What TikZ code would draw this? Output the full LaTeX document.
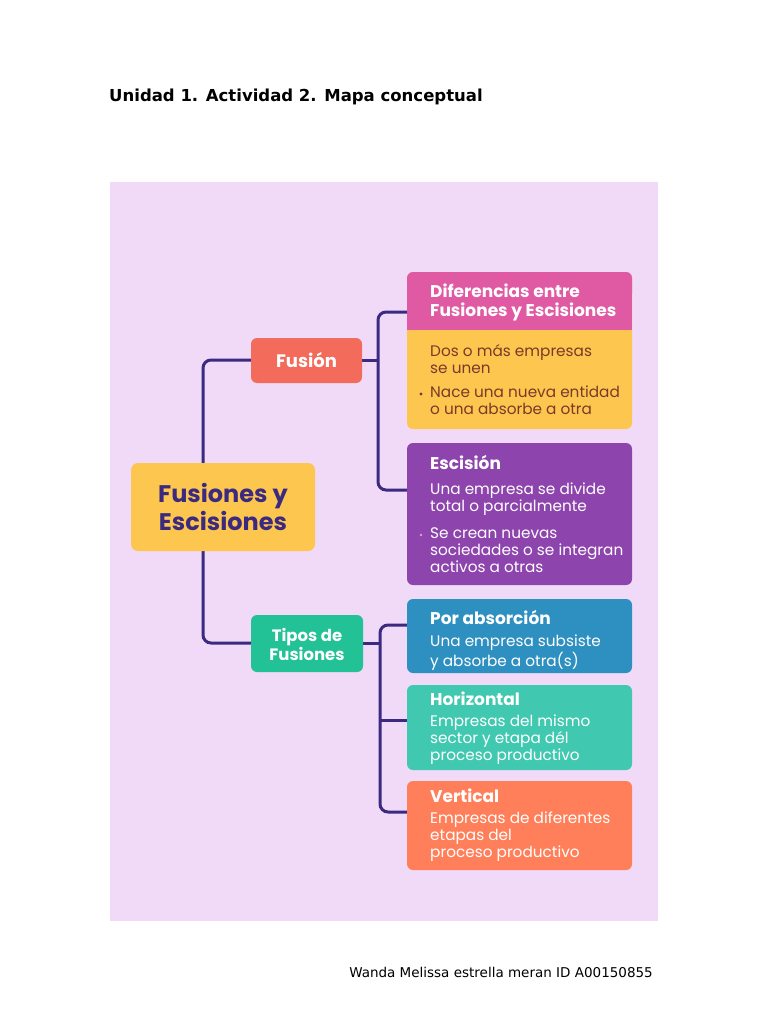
\documentclass[tikz,border=0pt]{standalone}
\usepackage{fontspec}
\setmainfont{Poppins}
\newfontfamily\titlef{DejaVu Sans}
\begin{document}
\begin{tikzpicture}[x=1pt,y=-1pt,
  line/.style={draw=lineC,line width=3pt,rounded corners=8pt},
  hd/.style={anchor=north west,inner sep=0pt,align=left,text=white,font=\fontsize{17}{19}\selectfont\bfseries},
  bd/.style={anchor=north west,inner sep=0pt,align=left,text=white,font=\fontsize{15.3}{17}\selectfont}]
\definecolor{bgC}{HTML}{F0DAF8}
\definecolor{lineC}{HTML}{3B2A80}
\definecolor{yelC}{HTML}{FDC64E}
\definecolor{fusC}{HTML}{F26B5B}
\definecolor{tipC}{HTML}{22C196}
\definecolor{pinkC}{HTML}{E05AA3}
\definecolor{purC}{HTML}{8E44AD}
\definecolor{bluC}{HTML}{2E90C0}
\definecolor{horC}{HTML}{40C9B0}
\definecolor{verC}{HTML}{FF7F5A}
\definecolor{brnC}{HTML}{7A3A2A}
\useasboundingbox (0,0) rectangle (768,1024);
\fill[white] (0,0) rectangle (768,1024);
\node[anchor=west,inner sep=0pt,font=\titlef\fontsize{16.5}{18}\selectfont\bfseries] (title) at (109,97) {Unidad 1. Actividad 2. Mapa conceptual};
\node[anchor=east,inner sep=0pt,font=\titlef\fontsize{13.5}{16}\selectfont] (foot) at (653,972) {Wanda Melissa estrella meran ID A00150855};
\fill[bgC] (110,182) rectangle (658,921);
% connectors
\draw[line] (203,463) -- (203,360) -- (251,360);
\draw[line] (203,551) -- (203,643) -- (251,643);
\draw[line,rounded corners=0] (362,360) -- (378,360);
\draw[line] (407,312) -- (378,312) -- (378,490) -- (407,490);
\draw[line,rounded corners=0] (363,643) -- (380,643);
\draw[line] (407,625) -- (380,625) -- (380,812) -- (407,812);
\draw[line,rounded corners=0] (380,720) -- (407,720);
% center
\fill[yelC,rounded corners=7pt] (131,463) rectangle (315,551);
\node[align=center,text=lineC,font=\fontsize{24}{28}\selectfont\bfseries] (c) at (223,507) {Fusiones y\\Escisiones};
\fill[fusC,rounded corners=6pt] (251,338) rectangle (362,383);
\node[text=white,font=\fontsize{18}{20}\selectfont\bfseries] (fus) at (306.5,360) {Fusión};
\fill[tipC,rounded corners=6pt] (251,615) rectangle (363,672);
\node[align=center,text=white,font=\fontsize{16.5}{19}\selectfont\bfseries] (tip) at (307,644) {Tipos de\\Fusiones};
% diferencias
\fill[yelC,rounded corners=6pt] (407,272) rectangle (632,429);
\fill[pinkC,rounded corners=6pt] (407,272) rectangle (632,300);
\fill[pinkC] (407,290) rectangle (632,330);
\node[hd] (dif) at (430,284) {Diferencias entre\\Fusiones y Escisiones};
\node[bd,text=brnC] (d1) at (430,344) {Dos o más empresas\\se unen};
\node[bd,text=brnC] (d2) at (430,386) {Nace una nueva entidad\\o una absorbe a otra};
\fill[brnC] (421,394) circle (1.6);
% escision
\fill[purC,rounded corners=6pt] (407,443) rectangle (632,585);
\node[hd] (esc) at (430,455) {Escisión};
\node[bd] (e1) at (430,483) {Una empresa se divide\\total o parcialmente};
\node[bd] (e2) at (430,527) {Se crean nuevas\\sociedades o se integran\\activos a otras};
\fill[pinkC!60!white] (421,535) circle (1.3);
% tipos
\fill[bluC,rounded corners=6pt] (407,599) rectangle (632,673);
\node[hd] (abs) at (430,610) {Por absorción};
\node[bd] (a1) at (430,635) {Una empresa subsiste\\y absorbe a otra(s)};
\fill[horC,rounded corners=6pt] (407,685) rectangle (632,770);
\node[hd] (hor) at (430,692) {Horizontal};
\node[bd] (h1) at (430,715) {Empresas del mismo\\sector y etapa dél\\proceso productivo};
\fill[verC,rounded corners=6pt] (407,781) rectangle (632,870);
\node[hd] (ver) at (430,789) {Vertical};
\node[bd] (v1) at (430,812) {Empresas de diferentes\\etapas del\\proceso productivo};
\end{tikzpicture}
\end{document}
